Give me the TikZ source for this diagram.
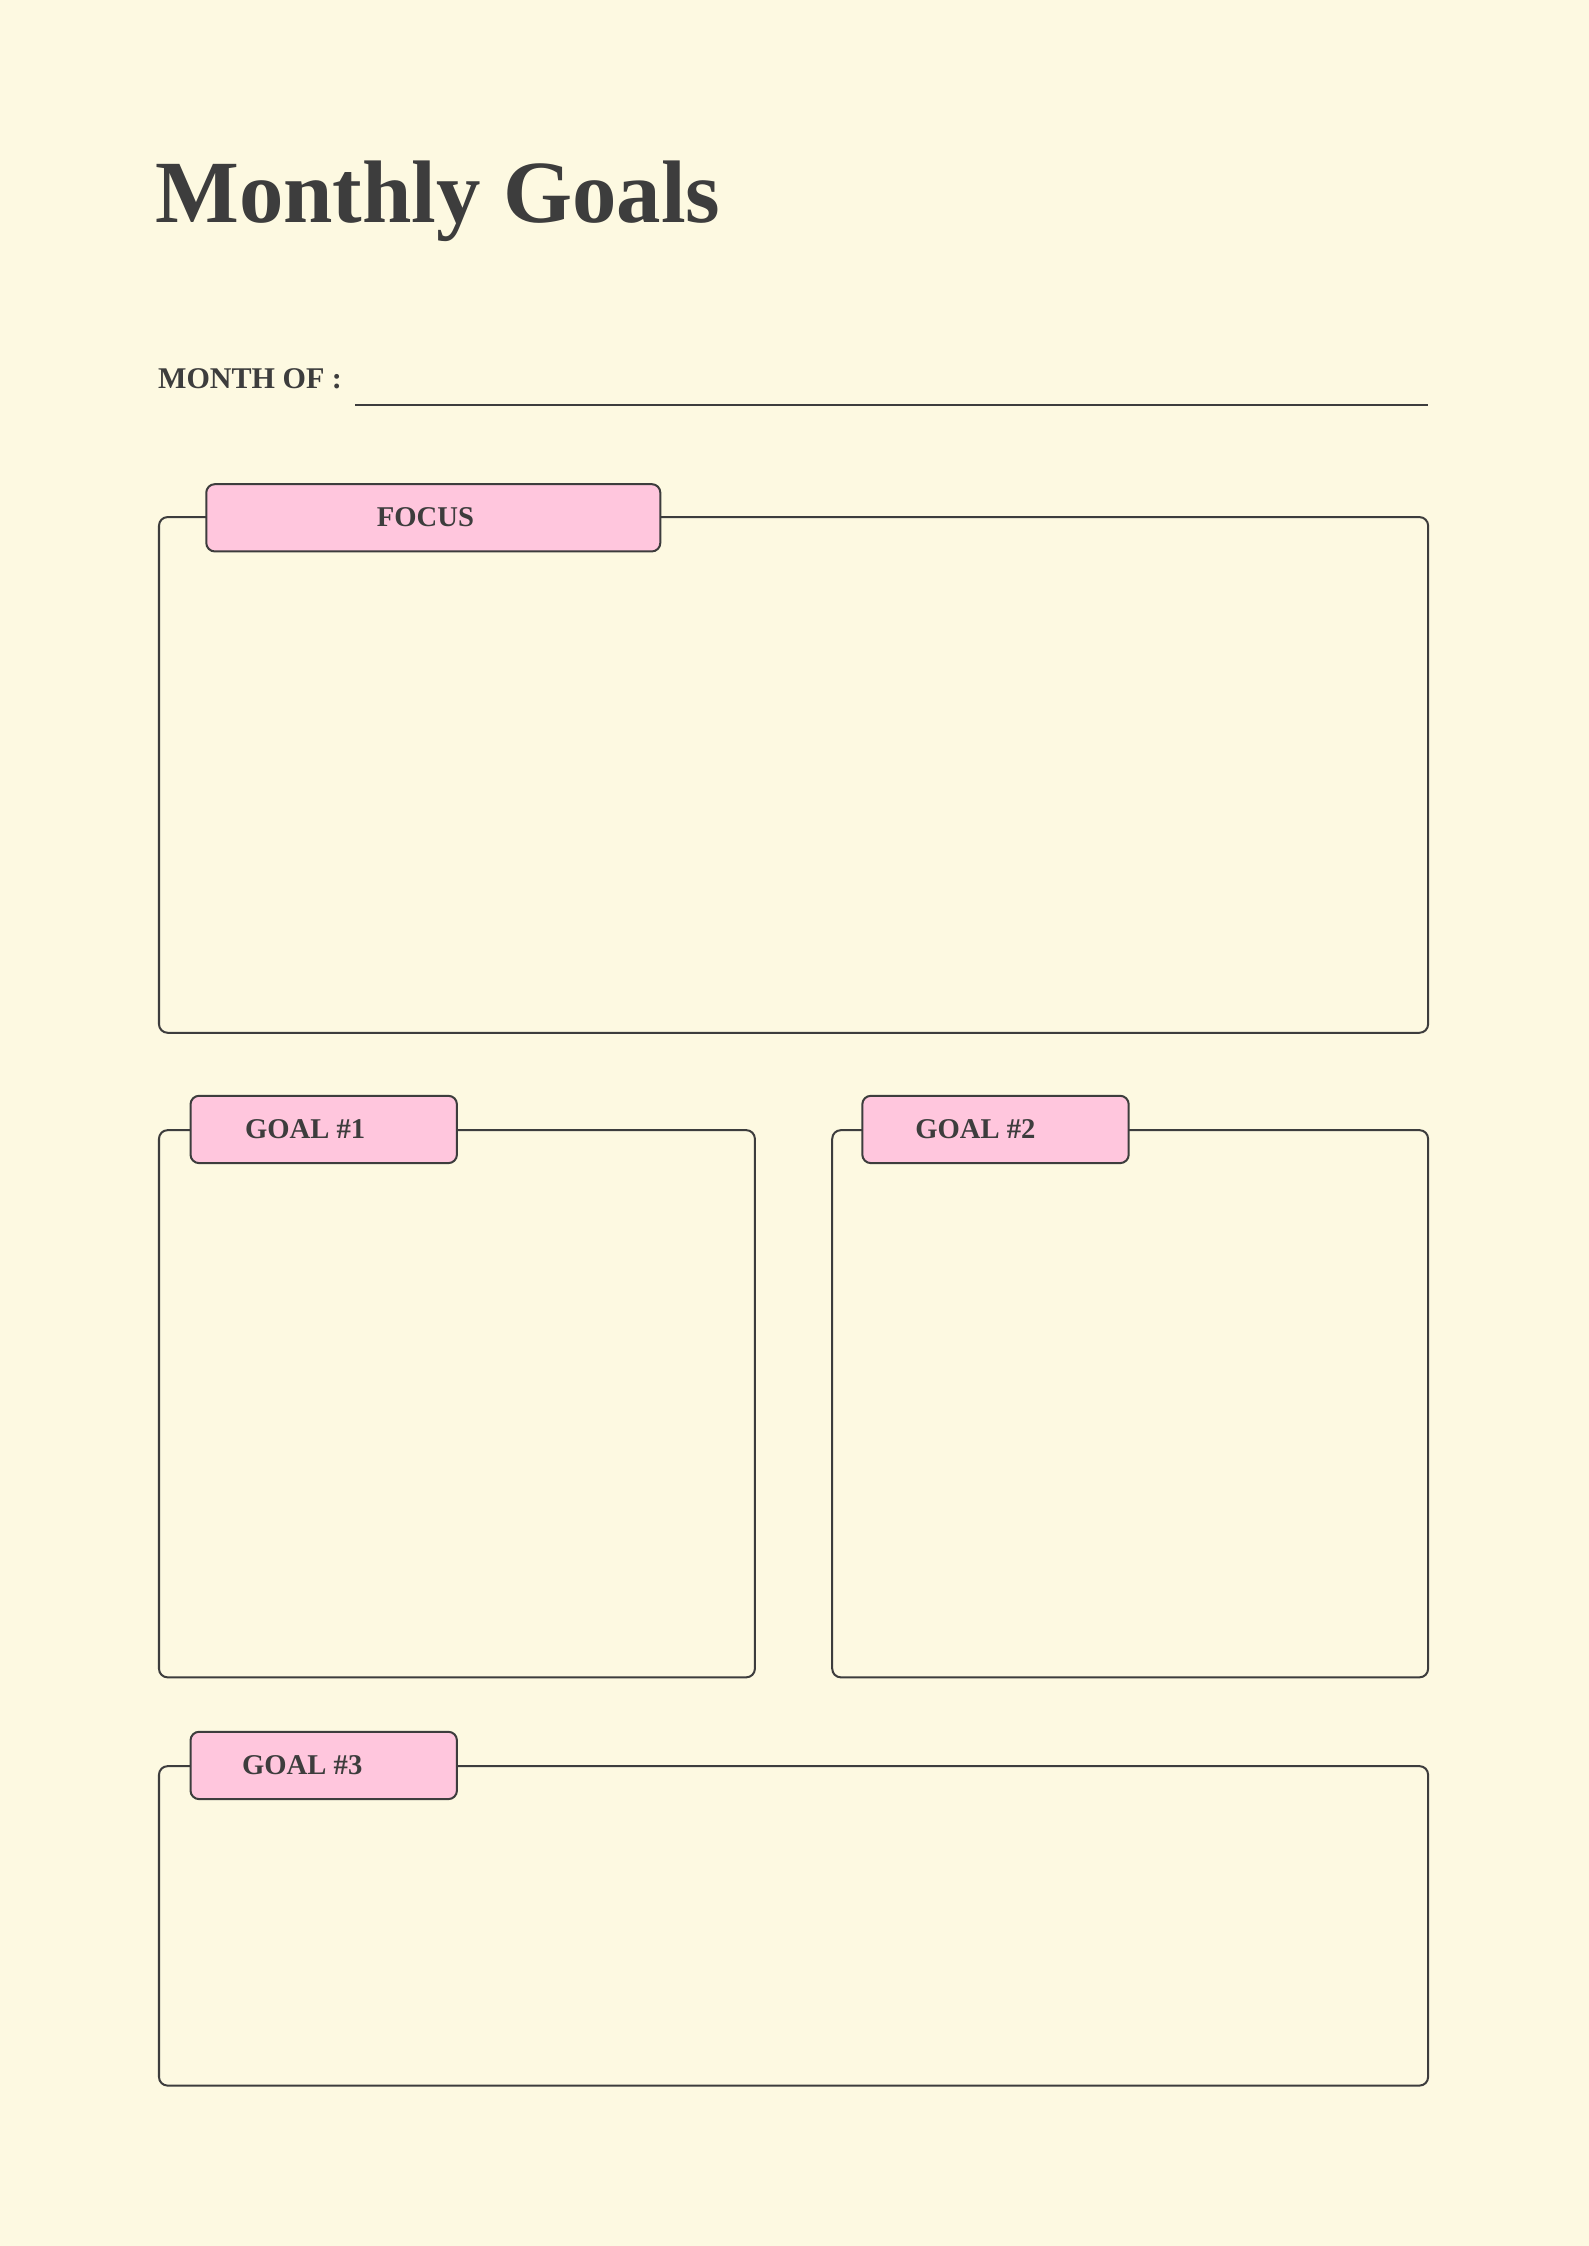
\documentclass[tikz,border=0pt]{standalone}
\usepackage{fontspec}
\setmainfont{Liberation Serif}
\definecolor{bg}{HTML}{FDF9E1}
\definecolor{ink}{HTML}{3D3D3D}
\definecolor{tab}{HTML}{FFC6DD}
\begin{document}
\begin{tikzpicture}[x=0.5pt,y=-0.5pt,
  frame/.style={draw=ink,line width=0.7pt,rounded corners=3pt},
  tabbox/.style={draw=ink,line width=0.7pt,fill=tab,rounded corners=3pt},
  lbl/.style={text=ink,font=\bfseries\fontsize{10}{12}\selectfont,anchor=center}]
\fill[bg] (0,0) rectangle (1109,1568);
\useasboundingbox (0,0) rectangle (1109,1568);
\node[anchor=base west,text=ink,font=\bfseries\fontsize{31}{36}\selectfont,inner sep=0] (title) at (108,155) {Monthly Goals};
\node[anchor=base west,text=ink,font=\bfseries\fontsize{10.5}{12}\selectfont,inner sep=0] (month) at (110,271) {MONTH OF :};
\coordinate (l1) at (248,283); \coordinate (l2) at (997,283);
\draw[ink,line width=0.7pt] (l1) -- (l2);
% focus
\draw[frame] (111,361) rectangle (997,721);
\draw[tabbox] (144,338) rectangle (461,385);
\node[lbl] (focus) at (297,361) {FOCUS};
% goal1
\draw[frame] (111,789) rectangle (527,1171);
\draw[tabbox] (133,765) rectangle (319,812);
\node[lbl] (g1) at (213,788) {GOAL \#1};
% goal2
\draw[frame] (581,789) rectangle (997,1171);
\draw[tabbox] (602,765) rectangle (788,812);
\node[lbl] (g2) at (681,788) {GOAL \#2};
% goal3
\draw[frame] (111,1233) rectangle (997,1456);
\draw[tabbox] (133,1209) rectangle (319,1256);
\node[lbl] (g3) at (211,1232) {GOAL \#3};
\end{tikzpicture}
\end{document}
